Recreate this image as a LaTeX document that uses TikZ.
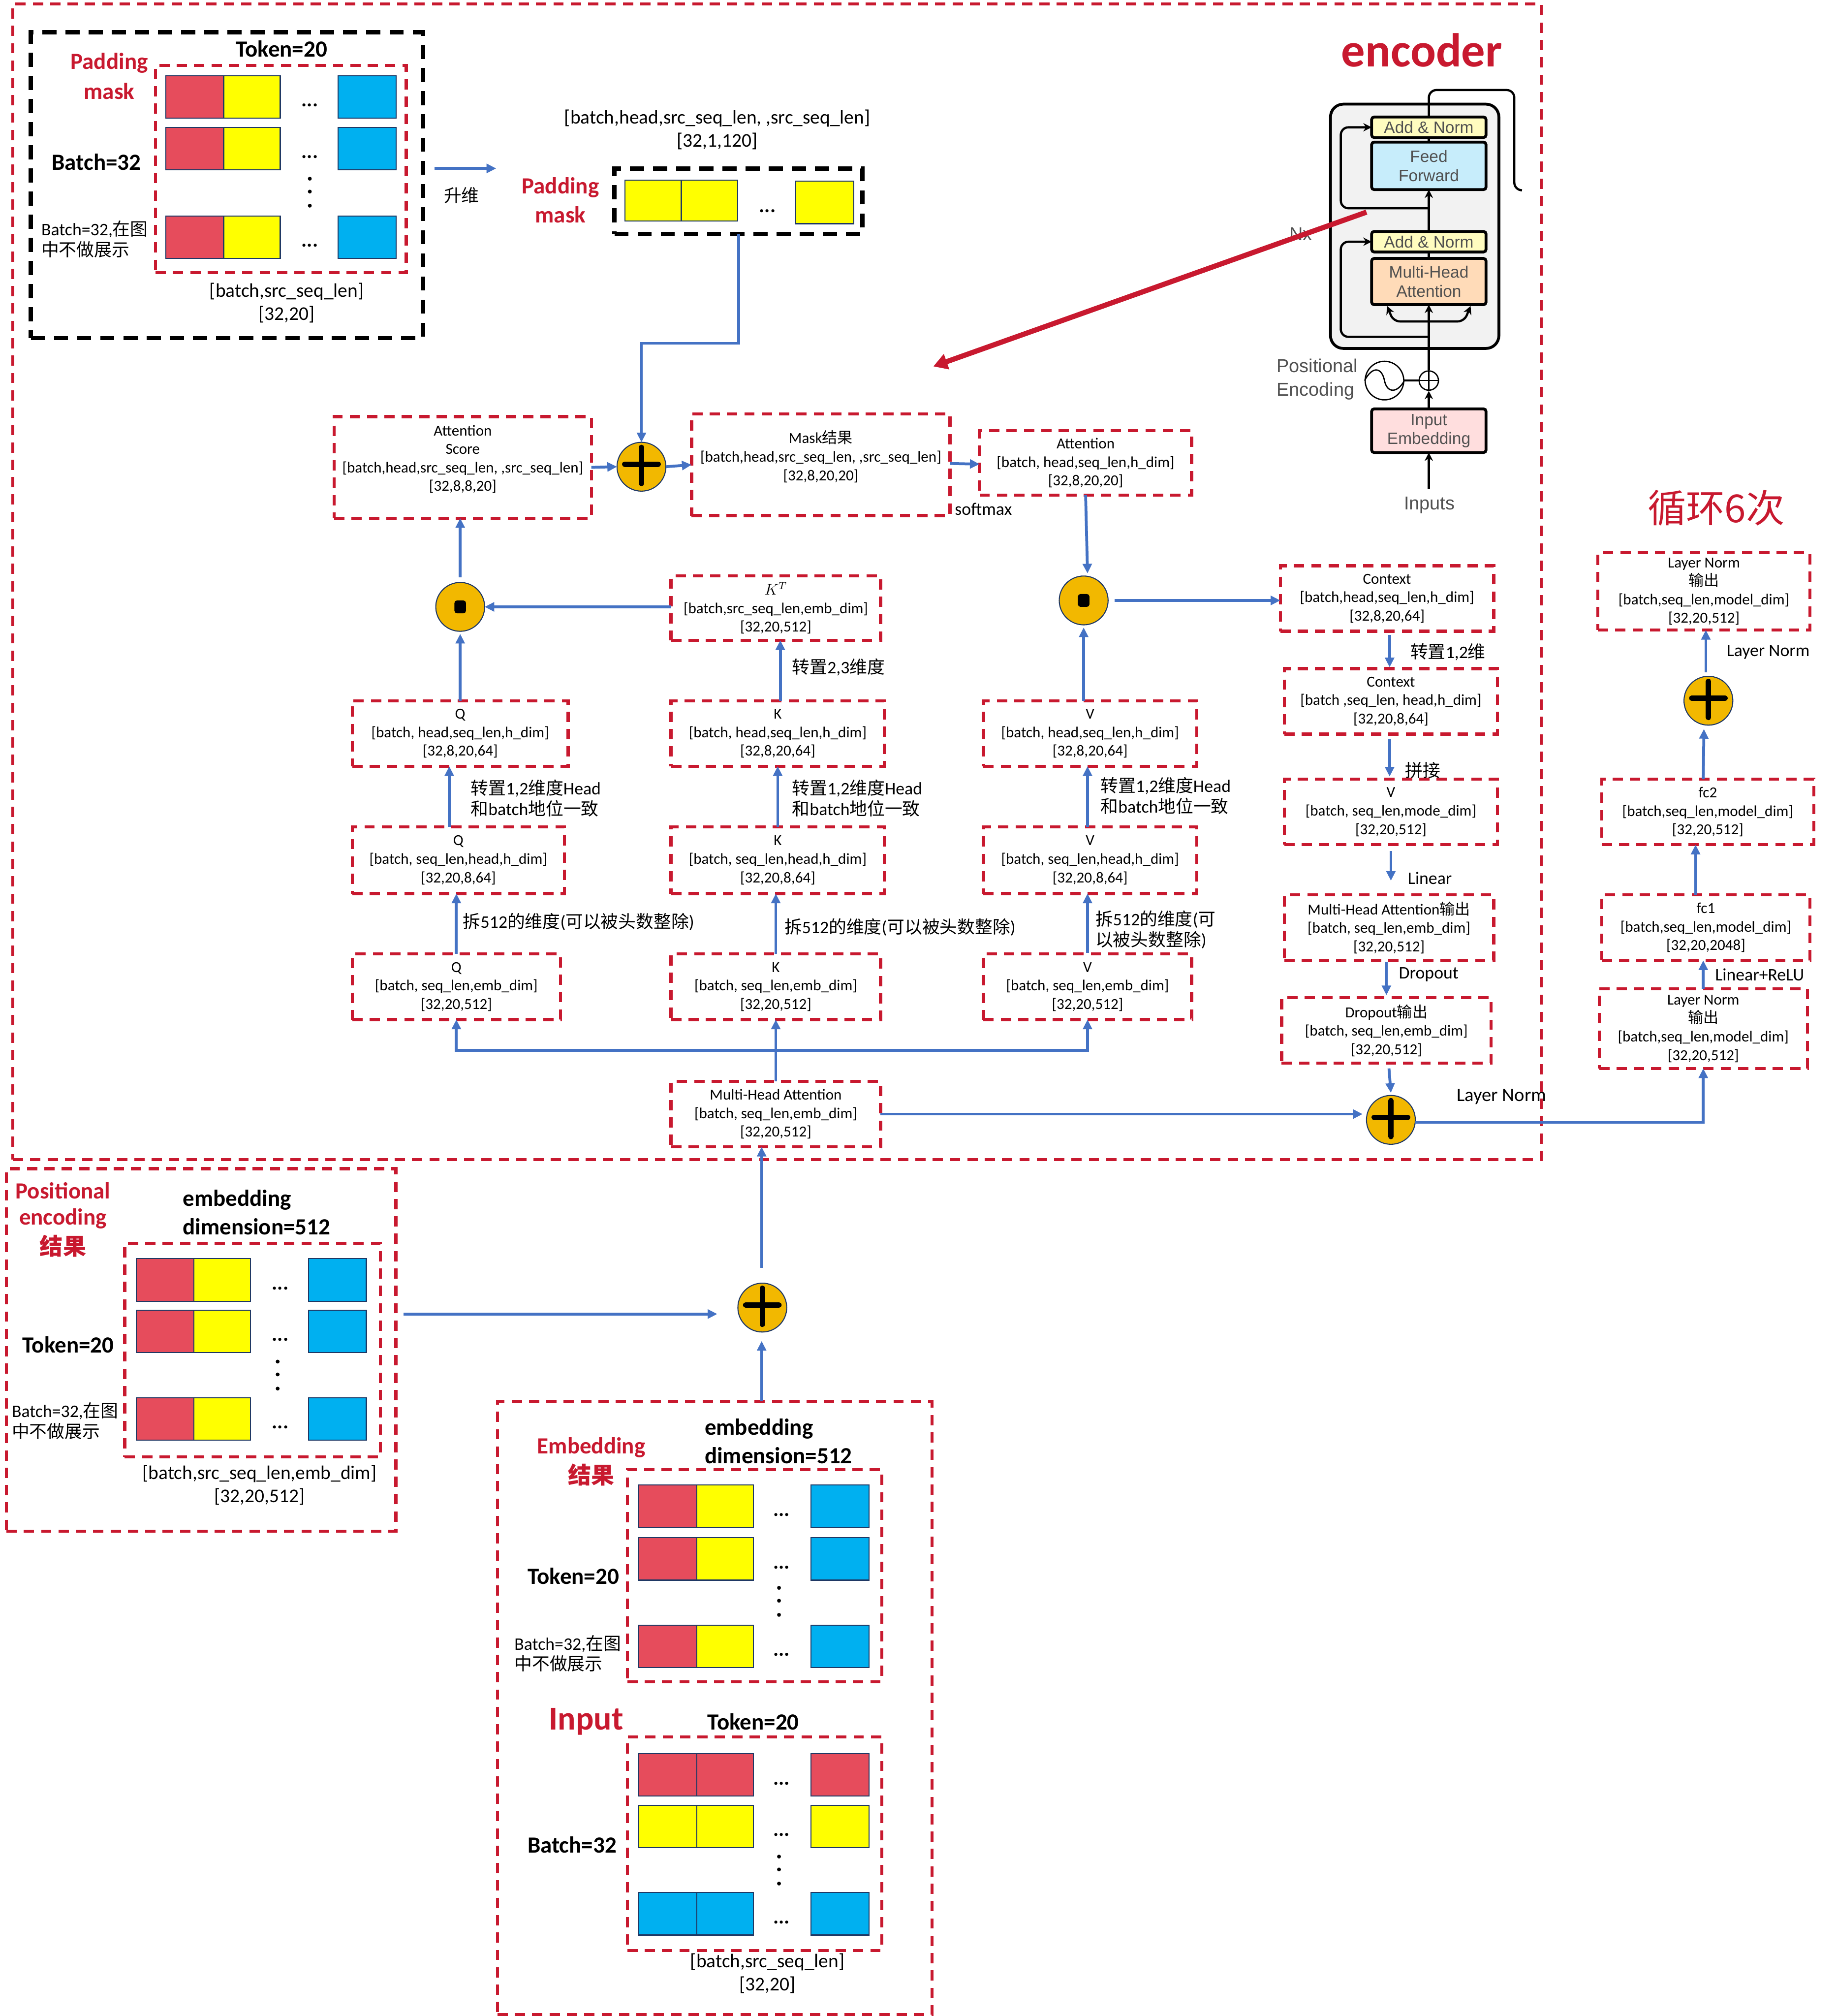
\documentclass[tikz,border=0pt]{standalone}
\usepackage{fontspec}
\setmainfont{Carlito}
\newfontfamily\cjk{Noto Sans CJK SC}
\newfontfamily\hv{Liberation Sans}
\usetikzlibrary{arrows.meta}
\newcommand{\zh}[1]{{\cjk #1}}
\definecolor{dred}{HTML}{C8192F}
\definecolor{dblue}{HTML}{4472C4}
\definecolor{cellr}{HTML}{E64C5C}
\definecolor{celly}{HTML}{FFFF00}
\definecolor{cellb}{HTML}{00B0F0}
\definecolor{celle}{HTML}{1F3864}
\definecolor{opfill}{HTML}{F2B800}
\definecolor{tgray}{HTML}{505050}
\tikzset{
 redbox/.style={draw=dred,line width=2.4pt,dash pattern=on 8pt off 5.5pt,inner sep=0pt,outer sep=0pt,align=center,font=\fontsize{11.9}{14.4}\selectfont},
 blackbox/.style={draw=black,line width=3.4pt,dash pattern=on 11pt off 7pt,inner sep=0pt,outer sep=0pt},
 arr/.style={draw=dblue,line width=2.2pt,-{Triangle[length=7.5pt,width=7pt]}},
 cell/.style={draw=celle,line width=0.8pt},
 lab/.style={inner sep=0pt,font=\fontsize{13.7}{16}\selectfont,align=center},
 lbig/.style={lab,font=\fontsize{15.1}{18}\selectfont},
 lft/.style={lab,anchor=west,align=left},
 tb/.style={lab,font=\fontsize{18}{21}\selectfont\bfseries},
 tr/.style={tb,text=dred},
 op/.style={circle,draw=celle,line width=0.8pt,fill=opfill,minimum size=38pt,inner sep=0pt,outer sep=0pt},
 tfb/.style={draw=black,line width=2.2pt,rounded corners=2pt,inner sep=0pt,outer sep=0pt,align=center,text=tgray,font=\hv\fontsize{12.8}{14.6}\selectfont},
 tfa/.style={draw=black,line width=1.7pt,-{Stealth[length=6.5pt,width=6.5pt]}},
 tfl/.style={draw=black,line width=1.7pt},
 tft/.style={inner sep=0pt,text=tgray,align=left,font=\hv\fontsize{14.5}{18.5}\selectfont},
}
\newcounter{tcnt}
\newcommand{\tx}[4][]{\stepcounter{tcnt}\node[lab,#1] (t\arabic{tcnt}) at (#2,#3) {#4};}
\newcommand{\rb}[6]{%
 \pgfmathsetmacro{\mycx}{(#2+#4)/2}\pgfmathsetmacro{\mycy}{(#3+#5)/2}%
 \pgfmathsetmacro{\myw}{#4-#2}\pgfmathsetmacro{\myh}{#5-#3}%
 \node[redbox,minimum width=\myw pt,minimum height=\myh pt] (#1) at (\mycx,\mycy) {#6};}
\newcommand{\bb}[5]{%
 \pgfmathsetmacro{\mycx}{(#2+#4)/2}\pgfmathsetmacro{\mycy}{(#3+#5)/2}%
 \pgfmathsetmacro{\myw}{#4-#2}\pgfmathsetmacro{\myh}{#5-#3}%
 \node[blackbox,minimum width=\myw pt,minimum height=\myh pt] (#1) at (\mycx,\mycy) {};}
% row: x y c1 c2 c3 lastx dotsx
\newcommand{\cellrow}[7]{%
 \draw[cell,fill=#3] (#1,#2) rectangle ++(45,33);
 \draw[cell,fill=#4] (#1,#2) ++(45,0) rectangle ++(44,33);
 \draw[cell,fill=#5] (#6,#2) rectangle ++(45,33);
 \stepcounter{tcnt}\path (#7,#2) ++(0,23) node[lab,font=\fontsize{16}{16}\selectfont\bfseries] (t\arabic{tcnt}) {...};}
\newcommand{\vdotz}[2]{\foreach \dy in {80,90,101}{\fill (#1,#2) ++(0,\dy) circle (1.5pt);}}
\newcommand{\opplus}[3]{\node[op] (#1) at (#2,#3) {};
 \draw[black,line width=4.2pt,line cap=round] (#1.center) ++(-13,-2) -- ++(26,0);
 \draw[black,line width=4.2pt,line cap=round] (#1.center) ++(0,-15) -- ++(0,28);}
\newcommand{\opdot}[3]{\node[op] (#1) at (#2,#3) {};
 \fill[black,rounded corners=2pt] (#1.center) ++(-4.5,-5) rectangle ++(9,10);}
\begin{document}
\begin{tikzpicture}[x=1pt,y=-1pt]
\fill[white] (0,0) rectangle (1429,1568);
\useasboundingbox (0,0) rectangle (1429,1568);
% encoder frame
\rb{enc}{10}{3}{1199}{902}{}
% padding mask input
\bb{pm}{24}{25}{329}{263}
\rb{pmr}{121}{51}{316}{212}{}
\cellrow{129}{59}{cellr}{celly}{cellb}{263}{241}
\cellrow{129}{99}{cellr}{celly}{cellb}{263}{241}
\cellrow{129}{168}{cellr}{celly}{cellb}{263}{241}
\vdotz{241}{59}
\tx[tb]{219}{38}{Token=20}
\tx[tr]{85}{49}{Padding}
\tx[tr]{85}{71}{mask}
\tx[tb]{75}{126}{Batch=32}
\tx[lft]{32}{186}{Batch=32,\zh{在图}\\\zh{中不做展示}}
\tx[lbig]{223}{235.5}{[batch,src\_seq\_len]\\{}[32,20]}
% padding mask result
\bb{pr}{478}{131}{671}{182}
\draw[cell,fill=celly] (486,140) rectangle (530,172);
\draw[cell,fill=celly] (530,140) rectangle (574,172);
\draw[cell,fill=celly] (619,141) rectangle (664,174);
\tx[font=\fontsize{16}{16}\selectfont\bfseries]{597}{164}{...}
\tx[lbig]{558}{101}{[batch,head,src\_seq\_len, ,src\_seq\_len]\\{}[32,1,120]}
\tx[tr]{436}{146}{Padding}
\tx[tr]{436}{167}{mask}
\coordinate (upa) at (338,131);
\coordinate (upb) at (386,131);
\draw[arr] (upa) -- (upb);
\tx{359}{152}{\zh{升维}}
% attention row
\rb{score}{260}{324}{460}{403}{Attention\\Score\\{}[batch,head,src\_seq\_len, ,src\_seq\_len]\\{}[32,8,8,20]\\{}~}
\opplus{pl1}{499}{363}
\rb{mask}{538}{322}{739}{401}{Mask\zh{结果}\\{}[batch,head,src\_seq\_len, ,src\_seq\_len]\\{}[32,8,20,20]\\{}~}
\rb{att}{762}{335}{927}{385}{Attention\\{}[batch, head,seq\_len,h\_dim]\\{}[32,8,20,20]}
\tx{765}{396}{softmax}
\draw[arr] (pr.south) -- ++(0,85) -| (pl1.north);
\draw[arr] (score.east) -- (pl1.west);
\draw[arr] (pl1.east) -- (mask.west);
\draw[arr] ([yshift=1pt]mask.east) -- ([yshift=-1pt]att.west);
% dots
\opdot{d1}{358}{472}
\opdot{d3}{843}{467}
\rb{kt}{522}{448}{685}{498}{$K^T$\\{}[batch,src\_seq\_len,emb\_dim]\\{}[32,20,512]}
\draw[arr] (kt.west |- d1) -- (d1.east);
\draw[arr] ([yshift=4pt]d1.north) -- (d1.north |- score.south);
\draw[arr] (att.south) -- ([xshift=3pt,yshift=2pt]d3.north);
% stacks
\rb{q1}{274}{545}{442}{596}{Q\\{}[batch, head,seq\_len,h\_dim]\\{}[32,8,20,64]}
\rb{k1}{522}{545}{688}{596}{K\\{}[batch, head,seq\_len,h\_dim]\\{}[32,8,20,64]}
\rb{v1}{765}{545}{931}{596}{V\\{}[batch, head,seq\_len,h\_dim]\\{}[32,8,20,64]}
\rb{q2}{274}{643}{439}{695}{Q\\{}[batch, seq\_len,head,h\_dim]\\{}[32,20,8,64]}
\rb{k2}{522}{643}{688}{695}{K\\{}[batch, seq\_len,head,h\_dim]\\{}[32,20,8,64]}
\rb{v2}{765}{643}{931}{695}{V\\{}[batch, seq\_len,head,h\_dim]\\{}[32,20,8,64]}
\rb{q3}{274}{742}{436}{793}{Q\\{}[batch, seq\_len,emb\_dim]\\{}[32,20,512]}
\rb{k3}{522}{742}{685}{793}{K\\{}[batch, seq\_len,emb\_dim]\\{}[32,20,512]}
\rb{v3}{765}{742}{927}{793}{V\\{}[batch, seq\_len,emb\_dim]\\{}[32,20,512]}
\rb{mh}{522}{841}{685}{892}{Multi-Head Attention\\{}[batch, seq\_len,emb\_dim]\\{}[32,20,512]}
\draw[arr] (q1.north) -- ([yshift=-2pt]d1.south);
\draw[arr] ([xshift=2pt]k1.north) -- ([xshift=2pt]k1.north |- kt.south);
\draw[arr] (d3 |- v1.north) -- ([yshift=-2pt]d3.south);
\draw[arr] ([xshift=-7pt]q2.north) -- ([xshift=-7pt]q2.north |- q1.south);
\draw[arr] (k2.north) -- (k2.north |- k1.south);
\draw[arr] ([xshift=-2pt]v2.north) -- ([xshift=-2pt]v2.north |- v1.south);
\draw[arr] (q3.north) -- (q3.north |- q2.south);
\draw[arr] (k3.north) -- (k3.north |- k2.south);
\draw[arr] ([yshift=1pt]v3.north) -- (v3.north |- v2.south);
\draw[arr] (mh.north) -- (k3.south);
\coordinate (tee) at (603.5,817);
\draw[arr] (tee) -| (q3.south);
\draw[arr] (tee) -| (v3.south);
\tx[lft]{366}{621}{\zh{转置}1,2\zh{维度}Head\\\zh{和}batch\zh{地位一致}}
\tx[lft]{616}{621}{\zh{转置}1,2\zh{维度}Head\\\zh{和}batch\zh{地位一致}}
\tx[lft]{856}{619}{\zh{转置}1,2\zh{维度}Head\\\zh{和}batch\zh{地位一致}}
\tx[lft]{616}{519}{\zh{转置}2,3\zh{维度}}
\tx[lft]{360}{717}{\zh{拆}512\zh{的维度}(\zh{可以被头数整除})}
\tx[lft]{610}{721}{\zh{拆}512\zh{的维度}(\zh{可以被头数整除})}
\tx[lft]{852}{723}{\zh{拆}512\zh{的维度}(\zh{可}\\\zh{以被头数整除})}
% right column
\rb{c1}{996}{440}{1162}{491}{Context\\{}[batch,head,seq\_len,h\_dim]\\{}[32,8,20,64]}
\rb{c2}{999}{520}{1165}{571}{Context\\{}[batch ,seq\_len, head,h\_dim]\\{}[32,20,8,64]}
\rb{vv}{999}{606}{1165}{657}{V\\{}[batch, seq\_len,mode\_dim]\\{}[32,20,512]}
\rb{mo}{999}{696}{1162}{747}{Multi-Head Attention\zh{输出}\\{}[batch, seq\_len,emb\_dim]\\{}[32,20,512]}
\rb{dr}{997}{776}{1160}{827}{Dropout\zh{输出}\\{}[batch, seq\_len,emb\_dim]\\{}[32,20,512]}
\opplus{pl2}{1082}{871}
\draw[arr] ([xshift=5pt]d3.east) -- (d3 -| c1.west);
\draw[arr] ([xshift=2pt,yshift=-3pt]c1.south) -- ([xshift=2pt,yshift=1pt]c1.south |- c2.north);
\draw[arr] ([xshift=-1pt,yshift=-4pt]c2.south) -- ([xshift=-1pt,yshift=2pt]c2.south |- vv.north);
\draw[arr] ([yshift=-5pt]vv.south) -- ++(0,23);
\draw[arr] ([yshift=-1pt,xshift=-2pt]mo.south) -- ([yshift=2pt,xshift=-2pt]mo.south |- dr.north);
\draw[arr] ([xshift=2pt,yshift=-4pt]dr.south) -- ([yshift=2pt]pl2.north);
\tx[lft]{1097}{507}{\zh{转置}1,2\zh{维}}
\tx[lft]{1093}{599}{\zh{拼接}}
\tx[lft]{1095}{683}{Linear}
\tx[lft]{1088}{758}{Dropout}
\tx[lft,font=\fontsize{14.8}{17}\selectfont]{1133}{853}{Layer Norm}
\draw[arr] (mh.east) -- ([xshift=-3pt]pl2.west |- mh.east);
\rb{ln2}{1244}{769}{1406}{831}{Layer Norm\\\zh{输出}\\{}[batch,seq\_len,model\_dim]\\{}[32,20,512]}
\rb{fc1}{1246}{696}{1408}{747}{fc1\\{}[batch,seq\_len,model\_dim]\\{}[32,20,2048]}
\rb{fc2}{1246}{606}{1411}{657}{fc2\\{}[batch,seq\_len,model\_dim]\\{}[32,20,512]}
\opplus{pl3}{1329}{545}
\rb{ln1}{1243}{430}{1408}{490}{Layer Norm\\\zh{输出}\\{}[batch,seq\_len,model\_dim]\\{}[32,20,512]}
\draw[arr] ([yshift=-2pt]pl2.east) -| (ln2.south);
\draw[arr] (ln2.north -| fc1.south) ++(-2,0) -- ([xshift=-2pt]fc1.south);
\draw[arr] ([xshift=-8pt]fc1.north) -- ([xshift=-8pt]fc1.north |- fc2.south);
\draw[arr] ([xshift=-3.5pt]fc2.north) -- ([xshift=-3.5pt,yshift=-3pt]pl3.south);
\draw[arr] ([xshift=-2pt,yshift=3pt]pl3.north) -- ([xshift=-2pt]pl3.north |- ln1.south);
\tx[lft]{1343}{507}{Layer Norm}
\tx[lft]{1334}{758}{Linear+ReLU}
\tx[font=\fontsize{30}{30}\selectfont\cjk,text=dred]{1335}{395}{循环6次}
\tx[font=\fontsize{37}{37}\selectfont\bfseries,text=dred]{1106}{39}{encoder}
% transformer encoder figure
\draw[fill=black!5,line width=2.2pt,draw=black,rounded corners=10pt] (1035,81) rectangle (1166,271);
\node[tfb,fill=yellow!25!white,minimum width=89pt,minimum height=16pt] (an1) at (1111.5,99) {Add \& Norm};
\node[tfb,fill=cyan!22!white,minimum width=89pt,minimum height=37pt] (ff) at (1111.5,129) {Feed\\Forward};
\node[tfb,fill=yellow!25!white,minimum width=89pt,minimum height=16pt] (an2) at (1111.5,188) {Add \& Norm};
\node[tfb,fill=orange!28!white,minimum width=89pt,minimum height=36pt] (mhf) at (1111.5,219) {Multi-Head\\Attention};
\node[tfb,fill=red!13!white,minimum width=89pt,minimum height=34pt] (ie) at (1111.5,335) {Input\\Embedding};
\node[draw=black,line width=1pt,circle,minimum size=15pt,inner sep=0pt] (pc) at (1111.5,296) {};
\draw[line width=.9pt] (pc.west) -- (pc.east) (pc.north) -- (pc.south);
\node[draw=black,line width=1pt,circle,minimum size=30pt,inner sep=0pt] (sn) at (1077,296) {};
\draw[line width=1pt] (sn.west) .. controls (1068,284) and (1075,286) .. (sn.center) .. controls (1079,306) and (1087,306) .. (sn.east);
\draw[tfl] (sn.east) -- (pc.west);
\node[tft,text width=70pt,anchor=west] (pe) at (993,295) {Positional\\Encoding};
\node[tft] (inp) at (1112,393) {Inputs};
\node[tft] (nx) at (1012,182) {Nx};
\coordinate (br1) at (1111.5,162);
\coordinate (br2) at (1111.5,262);
\coordinate (br3) at (1111.5,250);
\coordinate (ine) at (1111.5,380);
\coordinate (outa) at (1184,148);
\draw[tfa] (ine) -- (ie.south);
\draw[tfa] (ie.north) -- (pc.south);
\draw[tfa] (pc.north) -- (mhf.south);
\draw[tfl] (mhf.north) -- (an2.south);
\draw[tfa] (an2.north) -- (ff.south);
\draw[tfl] (ff.north) -- (an1.south);
\draw[tfl,rounded corners=6pt] (an1.north) -- (1111.5,70) -- (1178,70) -- (1178,148) -- (outa);
\draw[tfa,rounded corners=6pt] (br1) -- (1043,162) -- (1043,99) -- (an1.west);
\draw[tfa,rounded corners=6pt] (br2) -- (1043,262) -- (1043,188) -- (an2.west);
\draw[tfa,rounded corners=5pt] (br3) -- (1084,250) -- (1079,238);
\draw[tfa,rounded corners=5pt] (br3) -- (1139,250) -- (1144,238);
% red pointer
\coordinate (ptr) at (726,285);
\coordinate (ptrs) at (1063,165);
\draw[draw=dred,line width=4pt,-{Triangle[length=11pt,width=12pt]}] (ptrs) -- (ptr);
% positional box
\rb{pos}{5}{909}{308}{1191}{}
\rb{posr}{97}{967}{296}{1133}{}
\cellrow{106}{979}{cellr}{celly}{cellb}{240}{218}
\cellrow{106}{1019}{cellr}{celly}{cellb}{240}{218}
\cellrow{106}{1087}{cellr}{celly}{cellb}{240}{218}
\vdotz{216}{979}
\tx[tr]{49}{926}{Positional}
\tx[tr]{49}{948}{encoding}
\tx[tr]{49}{969}{\zh{结果}}
\tx[lft,font=\fontsize{18}{22}\selectfont\bfseries]{142}{943}{embedding\\dimension=512}
\tx[tb]{53}{1046}{Token=20}
\tx[lft]{9}{1105}{Batch=32,\zh{在图}\\\zh{中不做展示}}
\tx[lbig]{202}{1155}{[batch,src\_seq\_len,emb\_dim]\\{}[32,20,512]}
\opplus{pl4}{593}{1017}
\draw[arr] ([xshift=6pt]pos.east |- pl4) ++(0,5) -- ++(244,0);
% embedding box
\rb{emb}{387}{1090}{725}{1567}{}
\rb{embr}{488}{1143}{686}{1308}{}
\rb{inr}{488}{1351}{686}{1517}{}
\cellrow{497}{1155}{cellr}{celly}{cellb}{631}{608}
\cellrow{497}{1196}{cellr}{celly}{cellb}{631}{608}
\cellrow{497}{1264}{cellr}{celly}{cellb}{631}{608}
\vdotz{606}{1155}
\cellrow{497}{1364}{cellr}{cellr}{cellr}{631}{608}
\cellrow{497}{1404}{celly}{celly}{celly}{631}{608}
\cellrow{497}{1472}{cellb}{cellb}{cellb}{631}{608}
\vdotz{606}{1364}
\tx[tr]{460}{1126}{Embedding}
\tx[tr]{460}{1147}{\zh{结果}}
\tx[lft,font=\fontsize{18}{22}\selectfont\bfseries]{548}{1121}{embedding\\dimension=512}
\tx[tb]{446}{1226}{Token=20}
\tx[lft]{400}{1286}{Batch=32,\zh{在图}\\\zh{中不做展示}}
\tx[tr,font=\fontsize{26}{26}\selectfont\bfseries]{456}{1339}{Input}
\tx[tb]{586}{1339}{Token=20}
\tx[tb]{445}{1435}{Batch=32}
\tx[lbig]{597}{1535}{[batch,src\_seq\_len]\\{}[32,20]}
\draw[arr] (pl4 |- emb.north) ++(-0.5,0) -- ([xshift=-0.5pt,yshift=-7pt]pl4.south);
\draw[arr] ([xshift=-0.5pt,yshift=12pt]pl4.north) -- ([xshift=-0.5pt]pl4.north |- mh.south);
\end{tikzpicture}
\end{document}
